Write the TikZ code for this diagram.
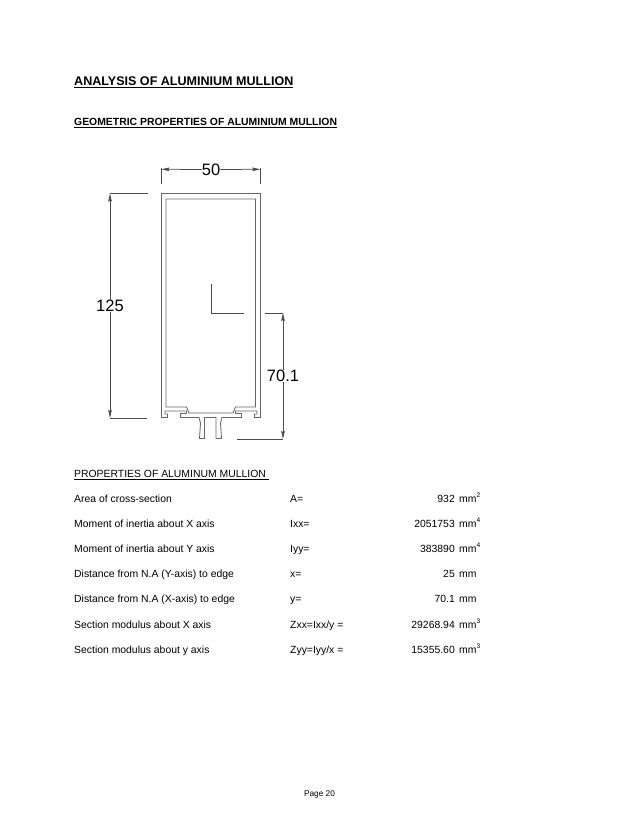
\documentclass[tikz,border=0pt]{standalone}
\usepackage{fontspec}
\setmainfont{Liberation Sans}
\usetikzlibrary{arrows.meta}
\newcommand{\unitsup}[1]{mm\raisebox{4.6pt}{\fontsize{6.6}{7}\selectfont #1}}
\tikzset{
  rowlabel/.style={anchor=base west,inner sep=0pt,font=\fontsize{10.4}{12}\selectfont},
  rowvalue/.style={anchor=base east,inner sep=0pt,font=\fontsize{10.4}{12}\selectfont},
  dimtext/.style={inner sep=0pt,font=\fontsize{16.5}{18}\selectfont},
  dimline/.style={draw=black!70,line width=.75pt},
  dimarrow/.style={dimline,-{Stealth[length=8pt,width=3.6pt,inset=1pt]}},
  profile/.style={draw=black!60,line width=.85pt}
}
\begin{document}
\begin{tikzpicture}[x=1pt,y=-1pt]
    \useasboundingbox (0,0) rectangle (638,826);

    % headings
    \node[rowlabel,font=\bfseries\fontsize{12.55}{14}\selectfont] (title) at (74,85.3) {\underline{ANALYSIS OF ALUMINIUM MULLION}};
    \node[rowlabel,font=\bfseries\fontsize{10.4}{12}\selectfont] (subtitle) at (74,125.3) {\underline{GEOMETRIC PROPERTIES OF ALUMINIUM MULLION}};
    \node[rowlabel] (proptitle) at (74,477.3) {\underline{PROPERTIES OF ALUMINUM MULLION\ }};

    % outer outline with lips and legs
    \draw[profile] (161.5,193.5) -- (260.5,193.5) -- (260.5,417.5) -- (254.5,417.5) -- (254.5,414) -- (257,414) -- (257,411) -- (235.5,411) -- (235.5,413.5) -- (241.5,413.5) -- (241.5,417.5) -- (222,417.5)
        -- (220.5,423) -- (221.5,438.5) -- (216,438.5) -- (216,417.5) -- (204.5,417.5) -- (204.5,438.5) -- (199.5,438.5) -- (200.5,423) -- (199,417.5)
        -- (180.5,417.5) -- (180.5,413.5) -- (186.5,413.5) -- (186.5,411) -- (165,411) -- (165,414) -- (167.5,414) -- (167.5,417.5) -- (161.5,417.5) -- cycle;
    % inner outline
    \draw[profile] (166,199) -- (255.5,199) -- (255.5,407) -- (235.5,407) -- (233,413) -- (189,413) -- (186.5,407) -- (166,407) -- cycle;

    % centroid mark
    \coordinate (na) at (211,313);
    \coordinate (natop) at (211,284);
    \coordinate (naright) at (244,313);
    \draw[dimline] (natop) -- (na) -- (naright);

    % width dimension
    \node[dimtext] (wlabel) at (211,169.5) {50};
    \draw[dimline] (161.3,168.3) -- (161.3,184.3);
    \draw[dimline] (260.3,168.3) -- (260.3,184.3);
    \draw[dimarrow] (wlabel) -- (161.3,169.3);
    \draw[dimarrow] (wlabel) -- (260.3,169.3);

    % height dimension
    \node[dimtext] (hlabel) at (110,306) {125};
    \coordinate (ht) at (110,193.5);
    \coordinate (hb) at (110,418);
    \draw[dimline] (148,193.5) -- (ht);
    \draw[dimline] (147,418) -- (hb);
    \draw[dimarrow] (hlabel) -- (ht);
    \draw[dimarrow] (hlabel) -- (hb);

    % neutral axis dimension
    \node[dimtext] (ylabel) at (283,376) {70.1};
    \coordinate (yt) at (283,313);
    \coordinate (yb) at (283,439);
    \draw[dimline] (265,313) -- (yt);
    \draw[dimline] (237,439) -- (yb);
    \draw[dimarrow] (ylabel) -- (yt);
    \draw[dimarrow] (ylabel) -- (yb);

    % table of properties
    \foreach \n/\y/\lab/\sym/\val/\unit in {
        a/502.4/{Area of cross-section}/{A=}/932/{\unitsup{2}},
        b/527.4/{Moment of inertia about X axis}/{Ixx=}/2051753/{\unitsup{4}},
        c/552.4/{Moment of inertia about Y axis}/{Iyy=}/383890/{\unitsup{4}},
        d/577.6/{Distance from N.A (Y-axis) to edge}/{x=}/25/{mm},
        e/602.6/{Distance from N.A (X-axis) to edge}/{y=}/70.1/{mm},
        f/628/{Section modulus about X axis}/{Zxx=Ixx/y =}/29268.94/{\unitsup{3}},
        g/653/{Section modulus about y axis}/{Zyy=Iyy/x =}/15355.60/{\unitsup{3}}}
    {
        \node[rowlabel] (lab\n) at (74,\y) {\lab};
        \node[rowlabel] (sym\n) at (290,\y) {\sym};
        \node[rowvalue] (val\n) at (455,\y) {\val};
        \node[rowlabel] (unit\n) at (459,\y) {\unit};
    }

    \node[anchor=base,inner sep=0pt,font=\fontsize{8.3}{10}\selectfont] (page) at (319.5,796) {Page 20};

  \end{tikzpicture}
\end{document}
